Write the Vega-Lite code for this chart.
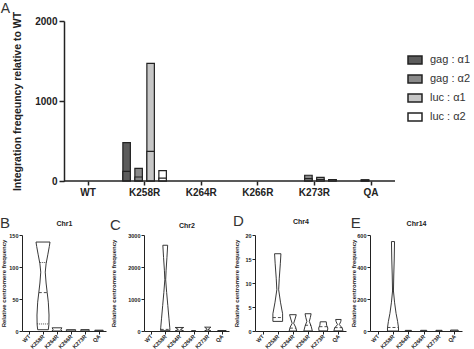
{
"$schema": "https://vega.github.io/schema/vega-lite/v6.json",
"padding": {"left": 0, "top": 2, "right": 0, "bottom": 0},
"config": {"view": {"stroke": null}, "font": "Liberation Sans", "axis": {"grid": false, "domainColor": "#222", "tickColor": "#222", "labelColor": "#222", "titleColor": "#222"}},
"datasets": {
"bars": [
{"c": "K258R", "s": "gag : α1", "hi": 480, "lo": 120},
{"c": "K258R", "s": "gag : α2", "hi": 158, "lo": 50},
{"c": "K258R", "s": "luc : α1", "hi": 1470, "lo": 370},
{"c": "K258R", "s": "luc : α2", "hi": 130, "lo": 35},
{"c": "K273R", "s": "gag : α2", "hi": 72, "lo": 30},
{"c": "K273R", "s": "luc : α1", "hi": 45, "lo": 20},
{"c": "K273R", "s": "luc : α2", "hi": 18, "lo": 18},
{"c": "QA", "s": "gag : α2", "hi": 14, "lo": 14}
],
"vio": [
{"p": "B", "i": 1, "v": 2, "w": 0.38}, {"p": "B", "i": 1, "v": 10, "w": 0.42}, {"p": "B", "i": 1, "v": 25, "w": 0.43}, {"p": "B", "i": 1, "v": 45, "w": 0.38}, {"p": "B", "i": 1, "v": 60, "w": 0.3}, {"p": "B", "i": 1, "v": 75, "w": 0.22}, {"p": "B", "i": 1, "v": 92, "w": 0.16}, {"p": "B", "i": 1, "v": 105, "w": 0.22}, {"p": "B", "i": 1, "v": 120, "w": 0.35}, {"p": "B", "i": 1, "v": 132, "w": 0.45}, {"p": "B", "i": 1, "v": 139, "w": 0.5},
{"p": "B", "i": 2, "v": 0, "w": 0.35}, {"p": "B", "i": 2, "v": 2.5, "w": 0.28}, {"p": "B", "i": 2, "v": 5, "w": 0.35},
{"p": "B", "i": 3, "v": 0.1, "w": 0.33}, {"p": "B", "i": 3, "v": 2.1, "w": 0.33},
{"p": "B", "i": 4, "v": 0.2, "w": 0.3}, {"p": "B", "i": 4, "v": 2.2, "w": 0.3},
{"p": "B", "i": 5, "v": 0.3, "w": 0.3}, {"p": "B", "i": 5, "v": 1.3, "w": 0.3},
{"p": "C", "i": 1, "v": 10, "w": 0.33}, {"p": "C", "i": 1, "v": 100, "w": 0.32}, {"p": "C", "i": 1, "v": 400, "w": 0.26}, {"p": "C", "i": 1, "v": 800, "w": 0.18}, {"p": "C", "i": 1, "v": 1200, "w": 0.1}, {"p": "C", "i": 1, "v": 1600, "w": 0.03}, {"p": "C", "i": 1, "v": 1900, "w": 0.06}, {"p": "C", "i": 1, "v": 2300, "w": 0.12}, {"p": "C", "i": 1, "v": 2680, "w": 0.17},
{"p": "C", "i": 2, "v": 0, "w": 0.3}, {"p": "C", "i": 2, "v": 50, "w": 0.08}, {"p": "C", "i": 2, "v": 110, "w": 0.3},
{"p": "C", "i": 3, "v": 1, "w": 0.15}, {"p": "C", "i": 3, "v": 8, "w": 0.15},
{"p": "C", "i": 4, "v": 2, "w": 0.22}, {"p": "C", "i": 4, "v": 51, "w": 0.03}, {"p": "C", "i": 4, "v": 120, "w": 0.22},
{"p": "C", "i": 5, "v": 3, "w": 0.3}, {"p": "C", "i": 5, "v": 12, "w": 0.3},
{"p": "D", "i": 1, "v": 2, "w": 0.32}, {"p": "D", "i": 1, "v": 3.6, "w": 0.32}, {"p": "D", "i": 1, "v": 6, "w": 0.18}, {"p": "D", "i": 1, "v": 8.6, "w": 0.06}, {"p": "D", "i": 1, "v": 11, "w": 0.1}, {"p": "D", "i": 1, "v": 14, "w": 0.17}, {"p": "D", "i": 1, "v": 16.1, "w": 0.21},
{"p": "D", "i": 2, "v": 0, "w": 0.25}, {"p": "D", "i": 2, "v": 0.8, "w": 0.18}, {"p": "D", "i": 2, "v": 1.6, "w": 0.05}, {"p": "D", "i": 2, "v": 2.5, "w": 0.14}, {"p": "D", "i": 2, "v": 3.4, "w": 0.22},
{"p": "D", "i": 3, "v": 0.01, "w": 0.28}, {"p": "D", "i": 3, "v": 1.01, "w": 0.2}, {"p": "D", "i": 3, "v": 2.01, "w": 0.08}, {"p": "D", "i": 3, "v": 2.81, "w": 0.15}, {"p": "D", "i": 3, "v": 3.6, "w": 0.2},
{"p": "D", "i": 4, "v": 0.02, "w": 0.28}, {"p": "D", "i": 4, "v": 0.62, "w": 0.3}, {"p": "D", "i": 4, "v": 1.22, "w": 0.22}, {"p": "D", "i": 4, "v": 1.92, "w": 0.2},
{"p": "D", "i": 5, "v": 0.03, "w": 0.3}, {"p": "D", "i": 5, "v": 0.63, "w": 0.25}, {"p": "D", "i": 5, "v": 1.33, "w": 0.06}, {"p": "D", "i": 5, "v": 1.93, "w": 0.15}, {"p": "D", "i": 5, "v": 2.4, "w": 0.18},
{"p": "E", "i": 1, "v": 0, "w": 0.36}, {"p": "E", "i": 1, "v": 20, "w": 0.36}, {"p": "E", "i": 1, "v": 60, "w": 0.3}, {"p": "E", "i": 1, "v": 110, "w": 0.2}, {"p": "E", "i": 1, "v": 180, "w": 0.1}, {"p": "E", "i": 1, "v": 250, "w": 0.03}, {"p": "E", "i": 1, "v": 350, "w": 0.05}, {"p": "E", "i": 1, "v": 450, "w": 0.08}, {"p": "E", "i": 1, "v": 559, "w": 0.1},
{"p": "E", "i": 2, "v": 0.1, "w": 0.2}, {"p": "E", "i": 2, "v": 4, "w": 0.2},
{"p": "E", "i": 3, "v": 0.2, "w": 0.2}, {"p": "E", "i": 3, "v": 4.2, "w": 0.2},
{"p": "E", "i": 4, "v": 0.3, "w": 0.2}, {"p": "E", "i": 4, "v": 4.3, "w": 0.2},
{"p": "E", "i": 5, "v": 0.4, "w": 0.25}, {"p": "E", "i": 5, "v": 6, "w": 0.25}
],
"med": [
{"p": "B", "i": 1, "v": 107, "w": 0.23, "t": "q"}, {"p": "B", "i": 1, "v": 60, "w": 0.3, "t": "m"}, {"p": "B", "i": 1, "v": 11, "w": 0.42, "t": "q"},
{"p": "C", "i": 1, "v": 50, "w": 0.32, "t": "m"},
{"p": "D", "i": 1, "v": 2.8, "w": 0.32, "t": "m"}, {"p": "D", "i": 2, "v": 0.6, "w": 0.2, "t": "m"}, {"p": "D", "i": 3, "v": 1.2, "w": 0.2, "t": "m"}, {"p": "D", "i": 4, "v": 0.9, "w": 0.25, "t": "m"}, {"p": "D", "i": 5, "v": 0.7, "w": 0.25, "t": "m"},
{"p": "E", "i": 1, "v": 22, "w": 0.36, "t": "m"}
]
},
"align": "none",
"vconcat": [
{
"width": 374, "height": 160,
"title": {"text": "A", "anchor": "start", "frame": "bounds", "fontSize": 14, "fontWeight": "normal", "color": "#333", "offset": -5, "dx": -12},
"data": {"name": "bars"},
"encoding": {
"x": {"field": "c", "type": "nominal", "scale": {"domain": ["WT", "K258R", "K264R", "K266R", "K273R", "QA"], "paddingInner": 0.152, "paddingOuter": 0.38, "align": 0.977}, "axis": {"title": null, "domain": false, "labelAngle": 0, "labelFontSize": 10, "labelFontWeight": "bold", "tickSize": 4, "tickWidth": 1.5, "labelPadding": 2}}
},
"layer": [
{
"encoding": {
"xOffset": {"field": "s", "type": "nominal", "scale": {"domain": ["gag : α1", "gag : α2", "luc : α1", "luc : α2"], "paddingInner": 0.375, "paddingOuter": 0.1875}},
"fill": {"field": "s", "type": "nominal", "scale": {"domain": ["gag : α1", "gag : α2", "luc : α1", "luc : α2"], "range": ["#5c5c5c", "#8a8a8a", "#c6c6c6", "#ffffff"]},
 "legend": {"title": null, "orient": "none", "legendX": 385, "legendY": 31, "padding": 0, "labelFontSize": 11, "labelColor": "#333", "symbolType": "M-1,-0.57H1V0.57H-1Z", "symbolSize": 196, "symbolStrokeColor": "#222", "symbolStrokeWidth": 1.5, "rowPadding": 4, "labelOffset": 7}}
},
"layer": [
{"mark": {"type": "bar", "stroke": "#222", "strokeWidth": 1.2},
 "encoding": {"y": {"field": "hi", "type": "quantitative", "scale": {"domain": [0, 2000]}, "title": "Integration freqeuncy relative to WT", "axis": {"values": [0, 500, 1000, 1500, 2000], "format": "d", "offset": -42, "labelFontSize": 10, "labelFontWeight": "bold", "tickSize": 5, "tickWidth": 1.5, "domainWidth": 1.5, "titleFontSize": 10.5, "titleFontWeight": "bold", "titlePadding": 12, "labelPadding": 2}}}},
{"mark": {"type": "bar", "stroke": "#222", "strokeWidth": 1.2},
 "encoding": {"y": {"field": "lo", "type": "quantitative", "title": "Integration freqeuncy relative to WT"}}}
]
},
{
"data": {"values": [{"base": 0}]},
"mark": {"type": "rule", "stroke": "#222", "strokeWidth": 1.5},
"encoding": {
"x": {"datum": "WT", "type": "nominal", "bandPosition": 0, "title": null},
"x2": {"datum": "QA", "bandPosition": 1},
"y": {"field": "base", "type": "quantitative", "title": "Integration freqeuncy relative to WT"}
}
}
]
},
{
"align": "none",
"hconcat": [
{
"width": 84, "height": 96,
"title": {"text": "B", "anchor": "start", "frame": "bounds", "fontSize": 15, "fontWeight": "normal", "color": "#333", "offset": -12},
"encoding": {"y": {"field": "v", "type": "quantitative", "scale": {"domain": [0, 150]}, "title": "Relative centromere frequency", "axis": {"values": [0, 50, 100, 150], "format": "d", "labelFontSize": 5.5, "labelFontWeight": "bold", "tickSize": 3, "labelPadding": 1, "titleFontSize": 6, "titleFontWeight": "bold", "titlePadding": 2, "minExtent": 14}}},
"layer": [
{"data": {"name": "vio"}, "transform": [{"filter": "datum.p === 'B'"}, {"calculate": "datum.i - datum.w", "as": "lo"}, {"calculate": "datum.i + datum.w", "as": "hi"}],
 "mark": {"type": "area", "orient": "horizontal", "fill": "white", "stroke": "#222", "strokeWidth": 0.9},
 "encoding": {
  "x": {"field": "lo", "type": "quantitative", "stack": null, "scale": {"domain": [-0.5, 5.5], "nice": false, "zero": false}, "title": null, "axis": {"values": [0, 1, 2, 3, 4, 5], "labelOverlap": false, "labelFlush": false, "labelExpr": "['WT','K258R','K264R','K266R','K273R','QA'][datum.value]", "labelAngle": -45, "labelAlign": "right", "labelBaseline": "middle", "labelFontSize": 5.5, "labelFontWeight": "bold", "tickSize": 3, "labelPadding": 1}},
  "x2": {"field": "hi"},
  "detail": {"field": "i", "type": "nominal"}}},
{"data": {"name": "med"}, "transform": [{"filter": "datum.p === 'B'"}, {"calculate": "datum.i - datum.w", "as": "lo"}, {"calculate": "datum.i + datum.w", "as": "hi"}],
 "mark": {"type": "rule", "stroke": "#222", "strokeWidth": 0.8},
 "encoding": {
  "x": {"field": "lo", "type": "quantitative", "scale": {"domain": [-0.5, 5.5], "nice": false, "zero": false}, "title": "Chr1", "axis": {"orient": "top", "labels": false, "ticks": false, "domain": false, "titleFontSize": 7, "titleFontWeight": "bold", "titlePadding": 9}},
  "x2": {"field": "hi"},
  "strokeDash": {"field": "t", "type": "nominal", "scale": {"domain": ["m", "q"], "range": [[3, 2], [1, 1]]}, "legend": null}}}
],
"resolve": {"axis": {"x": "independent"}}
},
{
"width": 85, "height": 96,
"title": {"text": "C", "anchor": "start", "frame": "bounds", "fontSize": 15, "fontWeight": "normal", "color": "#333", "offset": -12},
"encoding": {"y": {"field": "v", "type": "quantitative", "scale": {"domain": [0, 3000]}, "title": "Relative centromere frequency", "axis": {"values": [0, 1000, 2000, 3000], "format": "d", "labelFontSize": 5.5, "labelFontWeight": "bold", "tickSize": 3, "labelPadding": 1, "titleFontSize": 6, "titleFontWeight": "bold", "titlePadding": 2, "minExtent": 26}}},
"layer": [
{"data": {"name": "vio"}, "transform": [{"filter": "datum.p === 'C'"}, {"calculate": "datum.i - datum.w", "as": "lo"}, {"calculate": "datum.i + datum.w", "as": "hi"}],
 "mark": {"type": "area", "orient": "horizontal", "fill": "white", "stroke": "#222", "strokeWidth": 0.9},
 "encoding": {
  "x": {"field": "lo", "type": "quantitative", "stack": null, "scale": {"domain": [-0.5, 5.5], "nice": false, "zero": false}, "title": null, "axis": {"values": [0, 1, 2, 3, 4, 5], "labelOverlap": false, "labelFlush": false, "labelExpr": "['WT','K258R','K264R','K266R','K273R','QA'][datum.value]", "labelAngle": -45, "labelAlign": "right", "labelBaseline": "middle", "labelFontSize": 5.5, "labelFontWeight": "bold", "tickSize": 3, "labelPadding": 1}},
  "x2": {"field": "hi"},
  "detail": {"field": "i", "type": "nominal"}}},
{"data": {"name": "med"}, "transform": [{"filter": "datum.p === 'C'"}, {"calculate": "datum.i - datum.w", "as": "lo"}, {"calculate": "datum.i + datum.w", "as": "hi"}],
 "mark": {"type": "rule", "stroke": "#222", "strokeWidth": 0.8},
 "encoding": {
  "x": {"field": "lo", "type": "quantitative", "scale": {"domain": [-0.5, 5.5], "nice": false, "zero": false}, "title": "Chr2", "axis": {"orient": "top", "labels": false, "ticks": false, "domain": false, "titleFontSize": 7, "titleFontWeight": "bold", "titlePadding": 7}},
  "x2": {"field": "hi"},
  "strokeDash": {"field": "t", "type": "nominal", "scale": {"domain": ["m", "q"], "range": [[3, 2], [1, 1]]}, "legend": null}}}
],
"resolve": {"axis": {"x": "independent"}}
},
{
"width": 91, "height": 96,
"title": {"text": "D", "anchor": "start", "frame": "bounds", "fontSize": 15, "fontWeight": "normal", "color": "#333", "offset": -12},
"encoding": {"y": {"field": "v", "type": "quantitative", "scale": {"domain": [0, 20]}, "title": "Relative centromere frequency", "axis": {"values": [0, 5, 10, 15, 20], "format": "d", "labelFontSize": 5.5, "labelFontWeight": "bold", "tickSize": 3, "labelPadding": 1, "titleFontSize": 6, "titleFontWeight": "bold", "titlePadding": 2, "minExtent": 14}}},
"layer": [
{"data": {"name": "vio"}, "transform": [{"filter": "datum.p === 'D'"}, {"calculate": "datum.i - datum.w", "as": "lo"}, {"calculate": "datum.i + datum.w", "as": "hi"}],
 "mark": {"type": "area", "orient": "horizontal", "fill": "white", "stroke": "#222", "strokeWidth": 0.9},
 "encoding": {
  "x": {"field": "lo", "type": "quantitative", "stack": null, "scale": {"domain": [-0.5, 5.5], "nice": false, "zero": false}, "title": null, "axis": {"values": [0, 1, 2, 3, 4, 5], "labelOverlap": false, "labelFlush": false, "labelExpr": "['WT','K258R','K264R','K266R','K273R','QA'][datum.value]", "labelAngle": -45, "labelAlign": "right", "labelBaseline": "middle", "labelFontSize": 5.5, "labelFontWeight": "bold", "tickSize": 3, "labelPadding": 1}},
  "x2": {"field": "hi"},
  "detail": {"field": "i", "type": "nominal"}}},
{"data": {"name": "med"}, "transform": [{"filter": "datum.p === 'D'"}, {"calculate": "datum.i - datum.w", "as": "lo"}, {"calculate": "datum.i + datum.w", "as": "hi"}],
 "mark": {"type": "rule", "stroke": "#222", "strokeWidth": 0.8},
 "encoding": {
  "x": {"field": "lo", "type": "quantitative", "scale": {"domain": [-0.5, 5.5], "nice": false, "zero": false}, "title": "Chr4", "axis": {"orient": "top", "labels": false, "ticks": false, "domain": false, "titleFontSize": 7, "titleFontWeight": "bold", "titlePadding": 11}},
  "x2": {"field": "hi"},
  "strokeDash": {"field": "t", "type": "nominal", "scale": {"domain": ["m", "q"], "range": [[3, 2], [1, 1]]}, "legend": null}}}
],
"resolve": {"axis": {"x": "independent"}}
},
{
"width": 92, "height": 96,
"title": {"text": "E", "anchor": "start", "frame": "bounds", "fontSize": 15, "fontWeight": "normal", "color": "#333", "offset": -12},
"encoding": {"y": {"field": "v", "type": "quantitative", "scale": {"domain": [0, 600]}, "title": "Relative centromere frequency", "axis": {"values": [0, 200, 400, 600], "format": "d", "labelFontSize": 5.5, "labelFontWeight": "bold", "tickSize": 3, "labelPadding": 1, "titleFontSize": 6, "titleFontWeight": "bold", "titlePadding": 0, "minExtent": 0}}},
"layer": [
{"data": {"name": "vio"}, "transform": [{"filter": "datum.p === 'E'"}, {"calculate": "datum.i - datum.w", "as": "lo"}, {"calculate": "datum.i + datum.w", "as": "hi"}],
 "mark": {"type": "area", "orient": "horizontal", "fill": "white", "stroke": "#222", "strokeWidth": 0.9},
 "encoding": {
  "x": {"field": "lo", "type": "quantitative", "stack": null, "scale": {"domain": [-0.5, 5.5], "nice": false, "zero": false}, "title": null, "axis": {"values": [0, 1, 2, 3, 4, 5], "labelOverlap": false, "labelFlush": false, "labelExpr": "['WT','K258R','K264R','K266R','K273R','QA'][datum.value]", "labelAngle": -45, "labelAlign": "right", "labelBaseline": "middle", "labelFontSize": 5.5, "labelFontWeight": "bold", "tickSize": 3, "labelPadding": 1}},
  "x2": {"field": "hi"},
  "detail": {"field": "i", "type": "nominal"}}},
{"data": {"name": "med"}, "transform": [{"filter": "datum.p === 'E'"}, {"calculate": "datum.i - datum.w", "as": "lo"}, {"calculate": "datum.i + datum.w", "as": "hi"}],
 "mark": {"type": "rule", "stroke": "#222", "strokeWidth": 0.8},
 "encoding": {
  "x": {"field": "lo", "type": "quantitative", "scale": {"domain": [-0.5, 5.5], "nice": false, "zero": false}, "title": "Chr14", "axis": {"orient": "top", "labels": false, "ticks": false, "domain": false, "titleFontSize": 7, "titleFontWeight": "bold", "titlePadding": 9}},
  "x2": {"field": "hi"},
  "strokeDash": {"field": "t", "type": "nominal", "scale": {"domain": ["m", "q"], "range": [[3, 2], [1, 1]]}, "legend": null}}}
],
"resolve": {"axis": {"x": "independent"}}
}
],
"spacing": 4
}
],
"spacing": 17
}
